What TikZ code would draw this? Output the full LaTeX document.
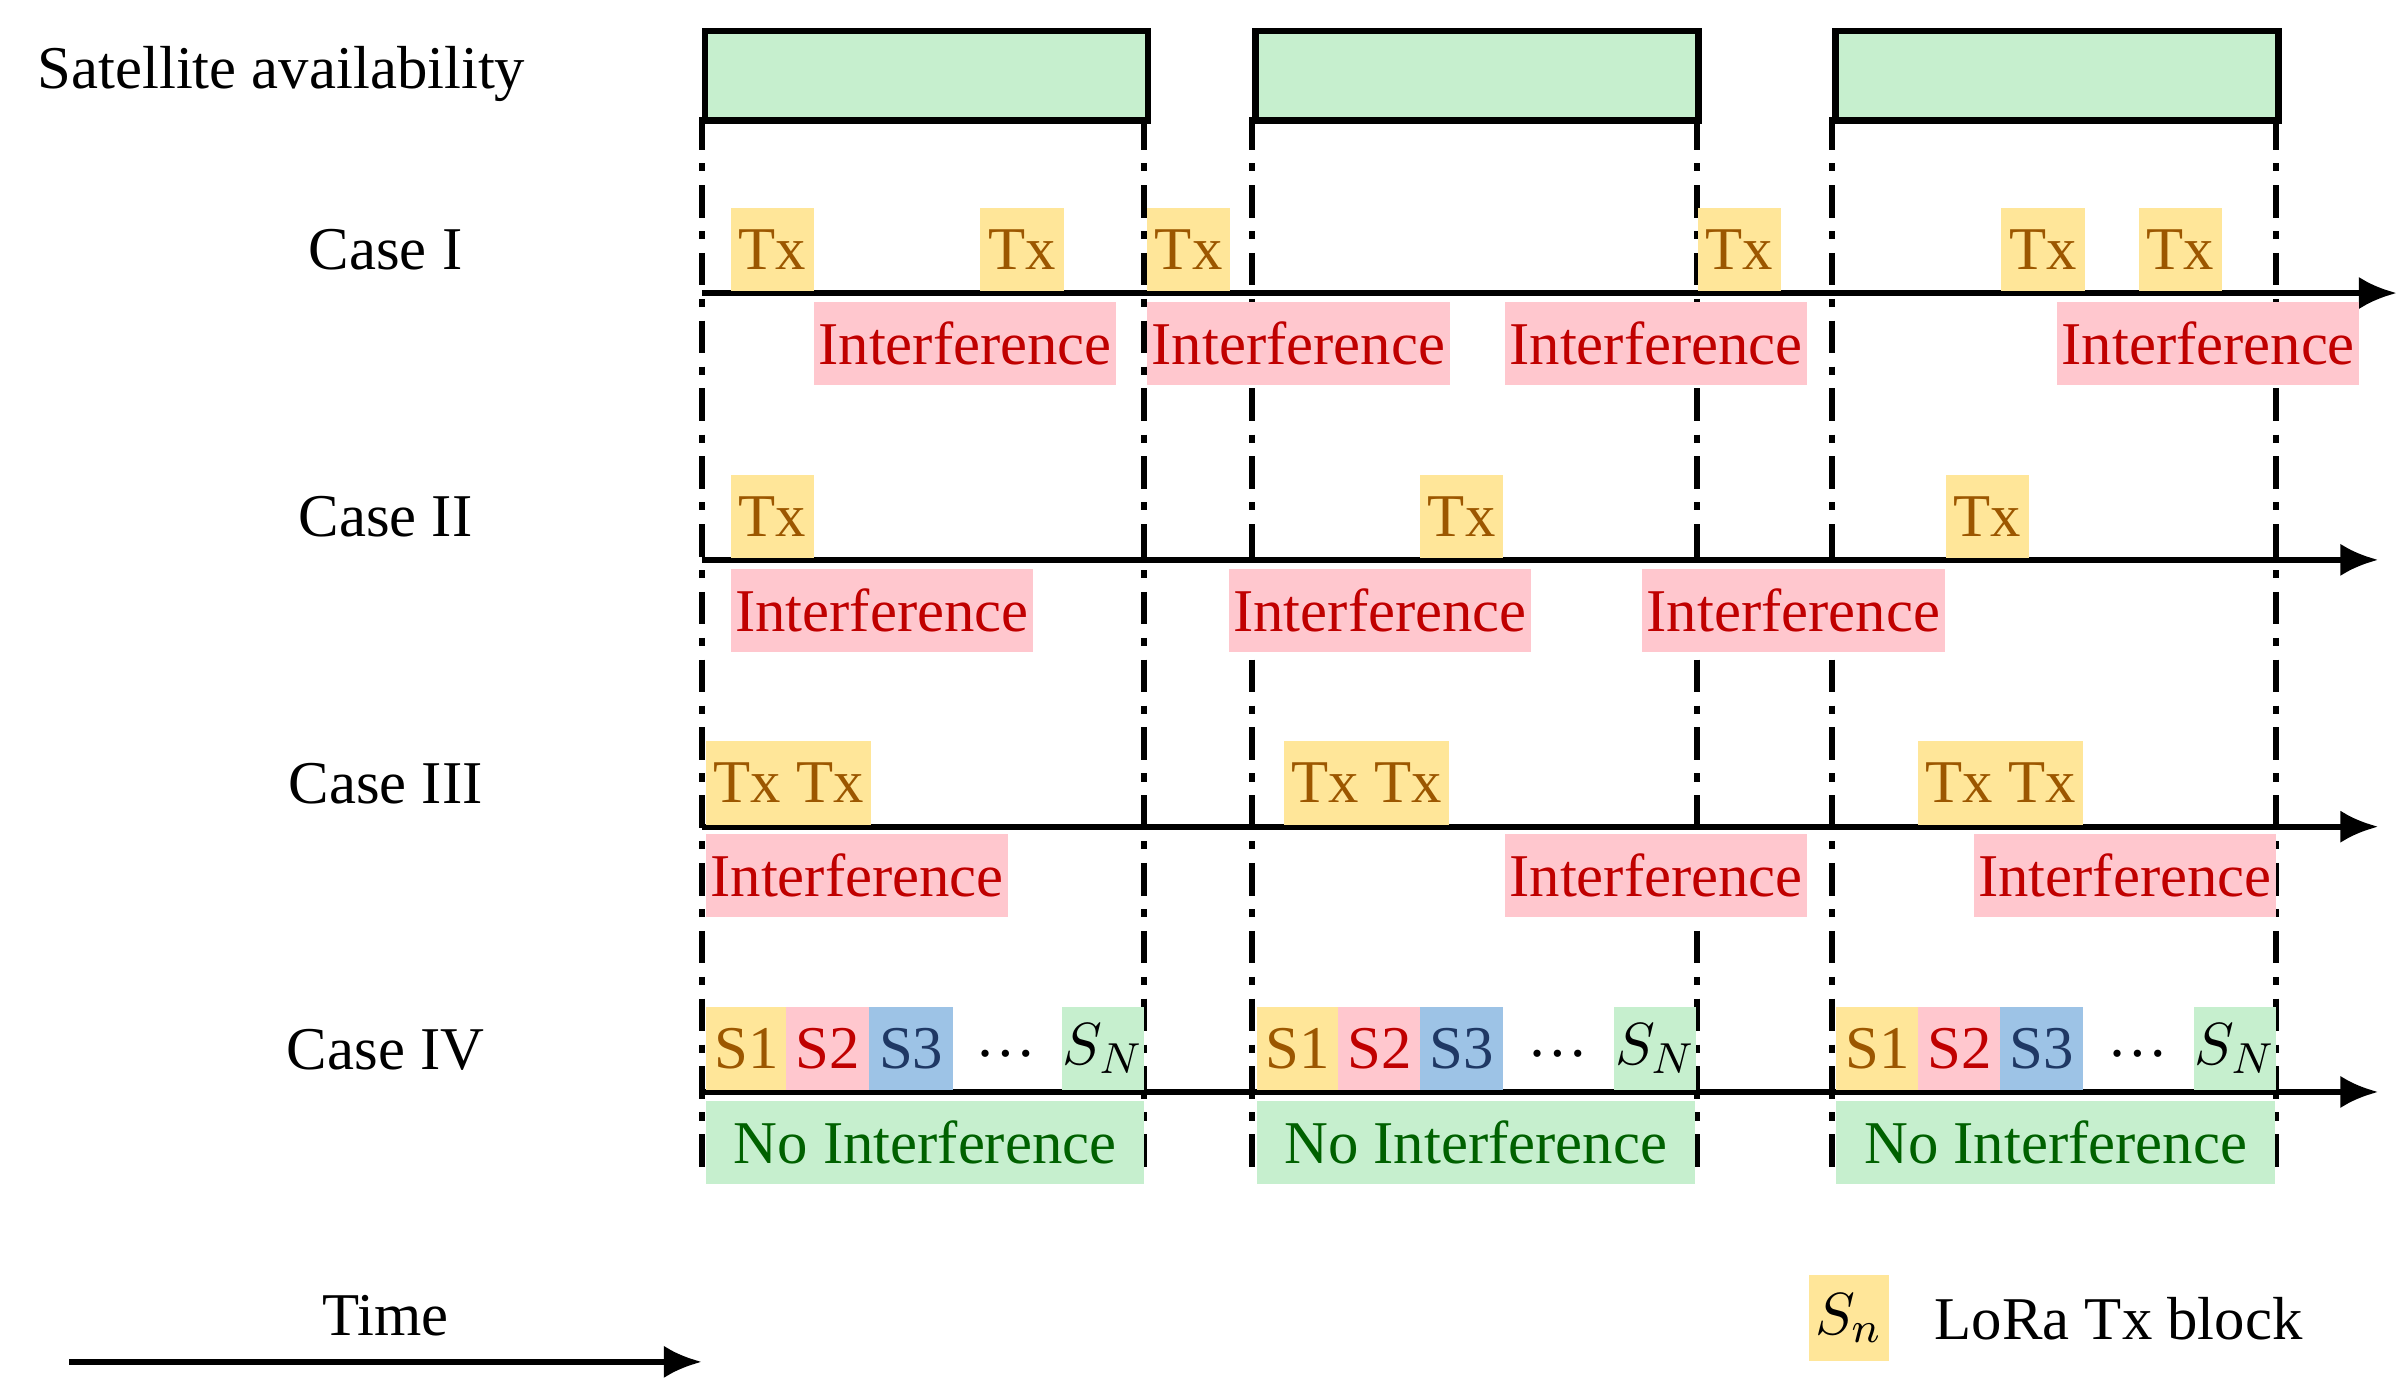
\documentclass[tikz,border=0pt]{standalone}
\usepackage{fontspec}
\setmainfont{Liberation Serif}
\usetikzlibrary{arrows.meta}
\definecolor{gfill}{HTML}{C6EFCE}
\definecolor{gtext}{HTML}{006100}
\definecolor{yfill}{HTML}{FFE699}
\definecolor{ytext}{HTML}{9C5700}
\definecolor{pfill}{HTML}{FFC7CE}
\definecolor{ptext}{HTML}{C00000}
\definecolor{bfill}{HTML}{9DC3E6}
\definecolor{btext}{HTML}{1F3864}
\begin{document}
\begin{tikzpicture}[x=0.01cm,y=-0.01cm,font=\fontsize{11.2}{13}\selectfont,
 blk/.style={inner sep=0,minimum height=0.54cm,anchor=north west},
 tx/.style={blk,fill=yfill,text=ytext,minimum width=0.54cm},
 txx/.style={blk,fill=yfill,text=ytext,minimum width=1.07cm},
 intf/.style={blk,fill=pfill,text=ptext,minimum width=1.96cm},
 sA/.style={blk,fill=yfill,text=ytext,minimum width=0.53cm},
 sB/.style={blk,fill=pfill,text=ptext,minimum width=0.54cm},
 sC/.style={blk,fill=bfill,text=btext,minimum width=0.54cm},
 sN/.style={blk,fill=gfill,text=black,minimum width=0.53cm},
 noi/.style={blk,fill=gfill,text=gtext,minimum width=2.84cm},
 sat/.style={draw=black,line width=1.2pt,fill=gfill,inner sep=0,minimum width=2.87cm,minimum height=0.58cm,anchor=north west},
 dd/.style={line width=1.1pt,dash pattern=on 6pt off 2.5pt on 1.5pt off 2.5pt},
 ax/.style={line width=1.1pt,-{Latex[length=7pt,width=6pt]}},
 lab/.style={anchor=center}]
\useasboundingbox (0,0) rectangle (1560,897);
% dash-dot lines
\foreach \x [count=\i] in {455,742,812,1100,1188,1476}{
  \coordinate (vt\i) at (\x,76); \coordinate (vb\i) at (\x,765);
  \draw[dd] (vt\i) -- (vb\i);}
% satellite
\node[sat] (s1) at (455,18) {};
\node[sat] (s2) at (812,18) {};
\node[sat] (s3) at (1188,18) {};
\node[anchor=west] (satl) at (12,48) {Satellite availability};
% labels
\node[lab] (c1) at (250,162) {Case I};
\node[lab] (c2) at (250,335) {Case II};
\node[lab] (c3) at (250,508) {Case III};
\node[lab] (c4) at (250,681) {Case IV};
% axes
\coordinate (a1s) at (455,190); \coordinate (a1e) at (1554,190);
\coordinate (a2s) at (455,363); \coordinate (a2e) at (1542,363);
\coordinate (a3s) at (455,536); \coordinate (a3e) at (1542,536);
\coordinate (a4s) at (455,708); \coordinate (a4e) at (1542,708);
\foreach \i in {1,2,3,4}{\draw[ax] (a\i s) -- (a\i e);}
% Case I
\node[tx] (t11) at (473,134) {Tx};
\node[tx] (t12) at (635,134) {Tx};
\node[tx] (t13) at (743,134) {Tx};
\node[tx] (t14) at (1100,134) {Tx};
\node[tx] (t15) at (1297,134) {Tx};
\node[tx] (t16) at (1386,134) {Tx};
\node[intf] (i11) at (527,195) {Interference};
\node[intf] (i12) at (743,195) {Interference};
\node[intf] (i13) at (975,195) {Interference};
\node[intf] (i14) at (1333,195) {Interference};
% Case II
\node[tx] (t21) at (473,307) {Tx};
\node[tx] (t22) at (920,307) {Tx};
\node[tx] (t23) at (1261,307) {Tx};
\node[intf] (i21) at (473,368) {Interference};
\node[intf] (i22) at (796,368) {Interference};
\node[intf] (i23) at (1064,368) {Interference};
% Case III
\node[txx] (t31) at (457,480) {Tx Tx};
\node[txx] (t32) at (832,480) {Tx Tx};
\node[txx] (t33) at (1243,480) {Tx Tx};
\node[intf] (i31) at (457,540) {Interference};
\node[intf] (i32) at (975,540) {Interference};
\node[intf] (i33) at (1279,540) {Interference};
% Case IV
\foreach \a/\b/\c/\d/\n [count=\k] in {457/509/563/688/1, 814/867/920/1046/2, 1190/1243/1296/1422/3}{
  \node[sA] (sa\k) at (\a,652) {S1};
  \node[sB] (sb\k) at (\b,652) {S2};
  \node[sC] (sc\k) at (\c,652) {S3};
  \node[anchor=center] (sd\k) at ({(\c+54+\d)/2},683) {\dots};
  \node[sN] (sn\k) at (\d,652) {$S_N$};
  \node[noi] (no\k) at (\a,713) {No Interference};
}
% time
\node[lab] (time) at (250,853) {Time};
\coordinate (ts) at (45,883); \coordinate (te) at (455,883);
\draw[ax] (ts) -- (te);
% legend
\node[blk,fill=yfill,text=black,minimum width=0.52cm,minimum height=0.56cm] (leg) at (1172,826) {$S_n$};
\node[anchor=west] (legl) at (1242,855) {LoRa Tx block};
\end{tikzpicture}
\end{document}
